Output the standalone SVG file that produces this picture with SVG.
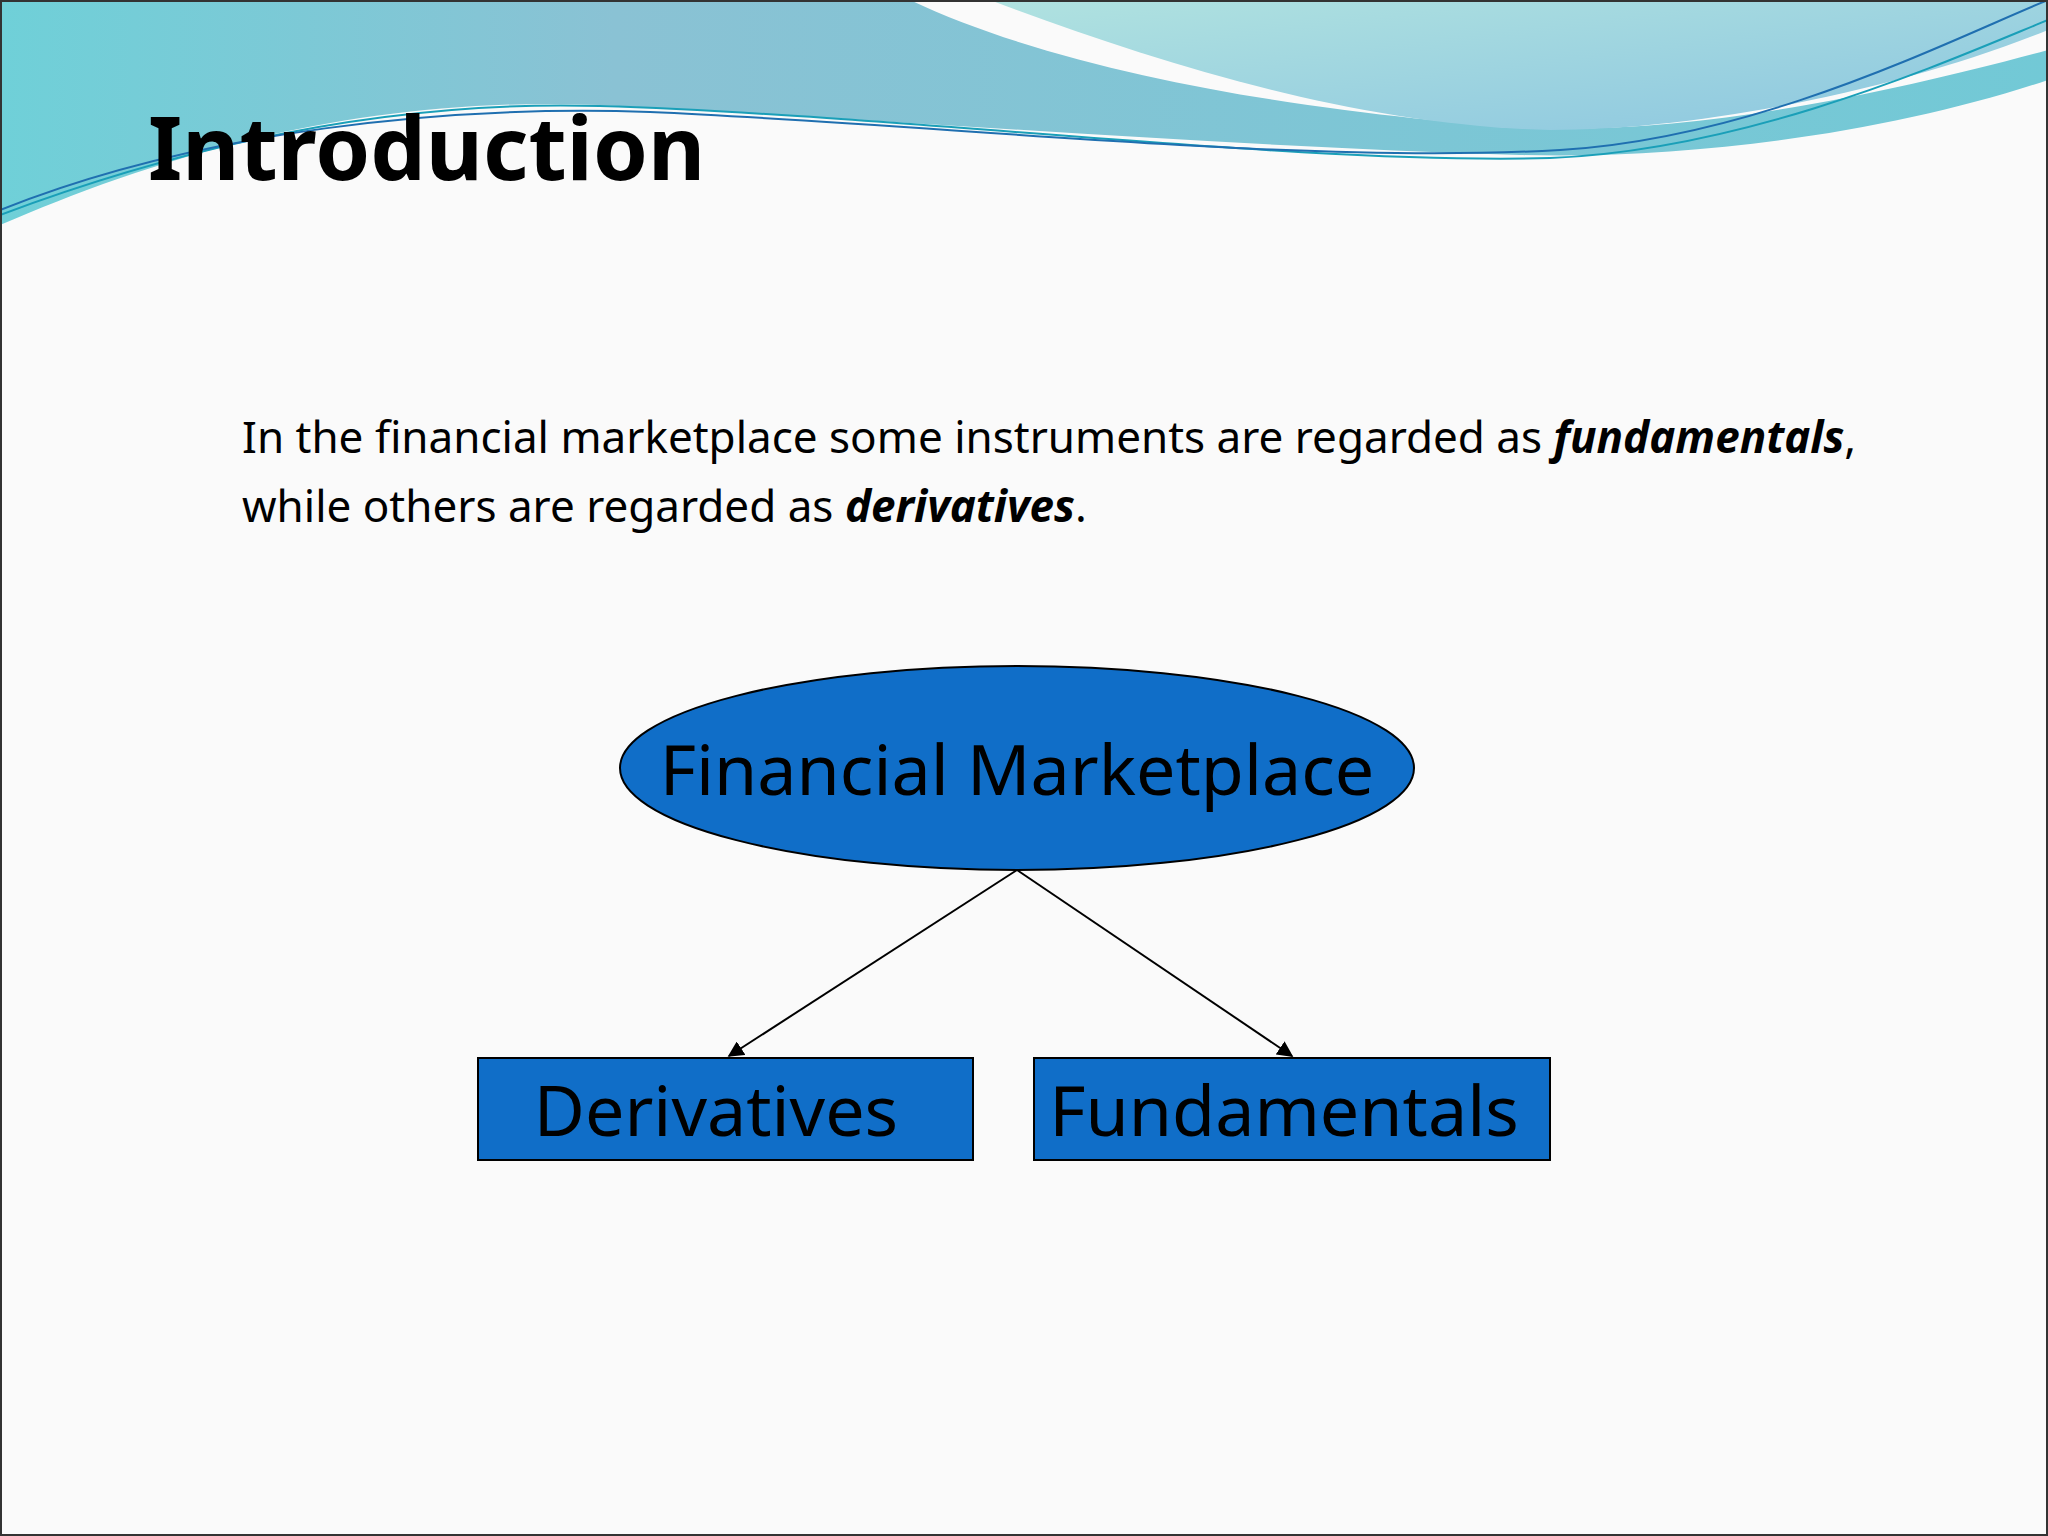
<svg xmlns="http://www.w3.org/2000/svg" width="2048" height="1536" viewBox="0 0 2048 1536">
<defs>
<linearGradient id="g1" x1="0" y1="0" x2="1" y2="0"><stop offset="0" stop-color="#6fd0d8"/><stop offset="0.3" stop-color="#8ac2d4"/><stop offset="1" stop-color="#72c9d6"/></linearGradient>
<linearGradient id="g2" x1="0" y1="0" x2="1" y2="1"><stop offset="0" stop-color="#b0e2e0"/><stop offset="1" stop-color="#8cc6e0"/></linearGradient>
<marker id="ar" viewBox="0 0 10 10" refX="9" refY="5" markerWidth="8" markerHeight="8" orient="auto"><path d="M0,0 L10,5 L0,10 z" fill="#000"/></marker>
<style>
text{font-family:"Noto Sans","Open Sans","DejaVu Sans",sans-serif;fill:#000}
.node{fill:#106ec8;stroke:#000;stroke-width:2}
.lbl{font-size:70px;text-anchor:middle}
.con{stroke:#000;stroke-width:2;fill:none;marker-end:url(#ar)}
</style>
</defs>
<rect width="2048" height="1536" fill="#fafafa"/>
<g id="header">
<path d="M0,0 H910 C1100,90 1400,120 1530,128 C1700,135 1900,90 2048,50 V80 C1900,130 1700,160 1520,155 C1200,145 900,120 600,105 C350,95 150,160 0,225 Z" fill="url(#g1)"/>
<path d="M990,0 H2048 V30 C1900,90 1700,130 1550,130 C1350,125 1150,60 990,0 Z" fill="url(#g2)"/>
<path d="M0,215 C200,140 400,100 600,106 C900,115 1300,165 1550,158 C1750,150 1950,60 2048,20" stroke="#1a9fb8" stroke-width="2" fill="none"/>
<path d="M0,210 C200,130 450,105 650,112 C950,125 1300,165 1560,150 C1760,138 1950,40 2048,0" stroke="#1f6fb0" stroke-width="2" fill="none"/>
</g>
<text x="148" y="180" font-size="88" font-weight="bold">Introduction</text>
<text x="242" y="453" font-size="44">In the financial marketplace some instruments are regarded as <tspan font-weight="bold" font-style="italic">fundamentals</tspan>,</text>
<text x="242" y="522" font-size="44">while others are regarded as <tspan font-weight="bold" font-style="italic">derivatives</tspan>.</text>
<g id="connectors">
<line class="con" x1="1017" y1="870" x2="729" y2="1056"/>
<line class="con" x1="1017" y1="870" x2="1292" y2="1056"/>
</g>
<g id="marketplace"><ellipse class="node" cx="1017" cy="768" rx="397" ry="102"/><text class="lbl" x="1017" y="795">Financial Marketplace</text></g>
<g id="derivatives"><rect class="node" x="478" y="1058" width="495" height="102"/><text class="lbl" x="716" y="1136">Derivatives</text></g>
<g id="fundamentals"><rect class="node" x="1034" y="1058" width="516" height="102"/><text class="lbl" x="1284" y="1136">Fundamentals</text></g>
<rect x="1" y="1" width="2046" height="1534" fill="none" stroke="#333" stroke-width="2"/>
</svg>
